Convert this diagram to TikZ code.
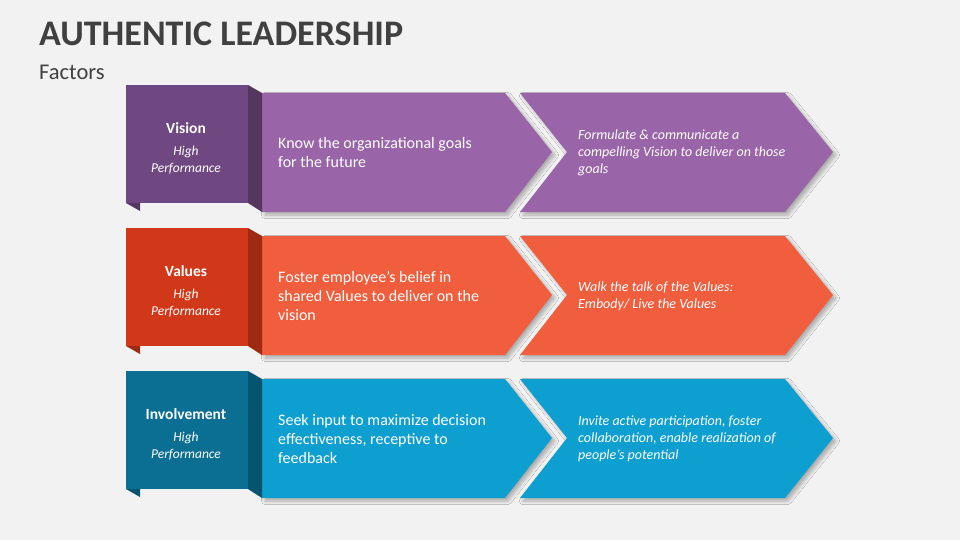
\documentclass[tikz,border=0pt]{standalone}
\usepackage{fontspec}
\setmainfont{Carlito}
\usetikzlibrary{shadows.blur}
\definecolor{bg}{HTML}{F2F2F2}
\definecolor{titlegray}{HTML}{404040}
\definecolor{vdark}{HTML}{6F4781}
\definecolor{vfold}{HTML}{55365F}
\definecolor{vmain}{HTML}{9A64A9}
\definecolor{rdark}{HTML}{D13819}
\definecolor{rfold}{HTML}{9E2A12}
\definecolor{rmain}{HTML}{F15E3E}
\definecolor{bdark}{HTML}{0A6F93}
\definecolor{bfold}{HTML}{065470}
\definecolor{bmain}{HTML}{0D9FCF}
\tikzset{
  headtxt/.style={text=white, font=\fontsize{15.5}{18}\selectfont\bfseries, inner sep=0pt},
  subtxt/.style={text=white, font=\fontsize{13.5}{17}\selectfont\itshape, align=center, inner sep=0pt},
  midtxt/.style={text=white, font=\fontsize{16}{19}\selectfont, align=left, anchor=west, inner sep=0pt},
  righttxt/.style={text=white, font=\fontsize{14}{17}\selectfont\itshape, align=left, anchor=west, inner sep=0pt},
  arrowshadow/.style={blur shadow={shadow xshift=3pt, shadow yshift=-3pt, shadow blur steps=8, shadow opacity=30, shadow blur radius=3.5pt}}
}
\newcommand\factorrow[7]{%
\begin{scope}[yshift=-#1pt]
  \fill[#4, arrowshadow] (262,93) -- (505,93) -- (552,152) -- (505,212) -- (262,212) -- cycle;
  \fill[#4, arrowshadow] (520,93) -- (785,93) -- (833,152) -- (785,212) -- (520,212) -- (567,152) -- cycle;
  \fill[#3] (248,85) -- (262,93) -- (262,212) -- (248,203) -- cycle;
  \fill[#3] (126,203) -- (140,203) -- (140,211) -- cycle;
  \fill[#2] (126,85) rectangle (248,203);
  \node[headtxt] (#5-head) at (186,128) {#5};
  \node[subtxt] (#5-sub) at (186,160) {High\\Performance};
  \node[midtxt] (#5-mid) at (278,152.5) {#6};
  \node[righttxt] (#5-right) at (578,153) {#7};
\end{scope}}
\begin{document}
\begin{tikzpicture}[x=1pt,y=-1pt]
\fill[bg] (0,0) rectangle (960,540);
\useasboundingbox (0,0) rectangle (960,540);
\node[anchor=base west, inner sep=0pt, text=titlegray, font=\fontsize{36}{40}\selectfont\bfseries] (title) at (39,46) {AUTHENTIC LEADERSHIP};
\node[anchor=base west, inner sep=0pt, text=titlegray, font=\fontsize{22.5}{26}\selectfont] (subtitle) at (39,80) {Factors};
\factorrow{0}{vdark}{vfold}{vmain}{Vision}{Know the organizational goals\\for the future}{Formulate \& communicate a\\compelling Vision to deliver on those\\goals}
\factorrow{143}{rdark}{rfold}{rmain}{Values}{Foster employee's belief in\\shared Values to deliver on the\\vision}{Walk the talk of the Values:\\Embody/ Live the Values}
\factorrow{286}{bdark}{bfold}{bmain}{Involvement}{Seek input to maximize decision\\effectiveness, receptive to\\feedback}{Invite active participation, foster\\collaboration, enable realization of\\people’s potential}
\end{tikzpicture}
\end{document}
